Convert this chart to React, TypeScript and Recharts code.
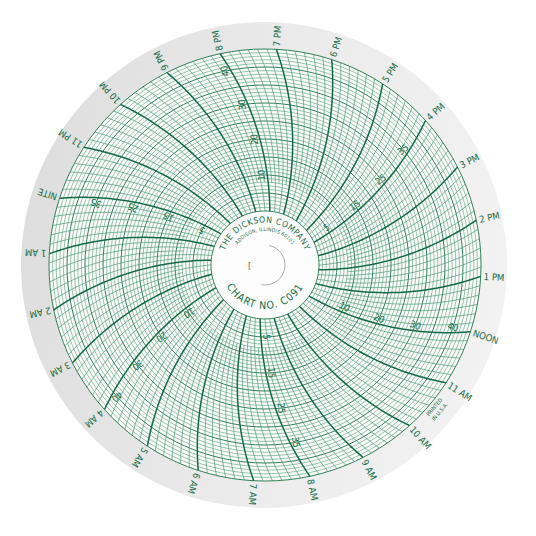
import React from "react";
import { ComposedChart, Line, Scatter, XAxis, YAxis } from "recharts";

// chart paper content
const HOUR_LABELS = [
  "NITE", "1 AM", "2 AM", "3 AM", "4 AM", "5 AM", "6 AM", "7 AM", "8 AM", "9 AM", "10 AM", "11 AM",
  "NOON", "1 PM", "2 PM", "3 PM", "4 PM", "5 PM", "6 PM", "7 PM", "8 PM", "9 PM", "10 PM", "11 PM",
];
const MINUTE_LINES = [0, 10, 20, 30, 40, 50];
const SCALE_MAX = 45;
const ODD_TICKS = [5, 15, 25, 35];
const EVEN_TICKS = [10, 20, 30, 40];
const LABELLED_HOURS = [0, 4, 8, 12, 16, 20];
const HUB_TITLE = "THE DICKSON COMPANY";
const HUB_CITY = "ADDISON, ILLINOIS 60101";
const HUB_CHART = "CHART NO. C091";
const PRINTED = ["PRINTED", "IN U.S.A."];

// geometry
const SIZE = 536;
const CX = 265;
const CY = 265;
const R_PAPER = 243;
const R_HUB = 54;
const R_OUT = 216;
const UNIT = (R_OUT - R_HUB) / SCALE_MAX;
const PEN = 280; // pen arm length, bends the time lines
const NITE_ANGLE = 162;
const DEG = Math.PI / 180;

const GREEN = "#136b44";
const THIN = "#3f9468";
const FONT = "'Liberation Sans Narrow', 'DejaVu Sans Condensed', 'Liberation Sans', sans-serif";

const rOf = (v: number) => R_HUB + v * UNIT;
const bend = (r: number) => (Math.acos(r / (2 * PEN)) - Math.acos(R_OUT / (2 * PEN))) / DEG;
const angleOf = (hour: number, r: number) => NITE_ANGLE + 15 * hour - bend(r);
const polar = (r: number, a: number) => ({ x: r * Math.cos(a * DEG), y: r * Math.sin(a * DEG) });

const scaleSteps: number[] = [];
for (let v = 0; v <= SCALE_MAX; v++) scaleSteps.push(v);

const circles = scaleSteps.map((v) => {
  const pts = [];
  for (let a = 0; a <= 360; a += 3) pts.push(polar(rOf(v), a));
  return { v, pts };
});

const timeLines: { key: string; major: boolean; pts: { x: number; y: number }[] }[] = [];
HOUR_LABELS.forEach((_, h) => {
  MINUTE_LINES.forEach((m) => {
    const t = h + m / 60;
    const start = m === 0 || m === 20 || m === 40 ? 0 : 8;
    const pts = [];
    for (let v = start; v <= SCALE_MAX; v++) pts.push(polar(rOf(v), angleOf(t, rOf(v))));
    timeLines.push({ key: `t${h}-${m}`, major: m === 0, pts });
  });
});

const hourLabelData = HOUR_LABELS.map((label, h) => {
  const a = NITE_ANGLE + 15 * h;
  return { ...polar(R_OUT + 3, a), label, angle: a };
});

const valueLabelData = LABELLED_HOURS.flatMap((h, i) =>
  (i % 2 === 0 ? ODD_TICKS : EVEN_TICKS).map((v) => {
    const r = rOf(v);
    const a = angleOf(h, r) + 6 / r / DEG;
    return { ...polar(r, a), label: String(v), angle: a };
  })
);

const hubData = [{ x: 0, y: 0 }];
const printedData = [{ ...polar(226, 320), angle: 320 }];

const RadialText = (props: any) => {
  const { cx, cy, payload, size, anchor } = props;
  return (
    <text
      x={cx}
      y={cy}
      transform={`rotate(${-payload.angle} ${cx} ${cy})`}
      textAnchor={anchor}
      dominantBaseline="central"
      fontFamily={FONT}
      fontSize={size}
      fill={GREEN}
    >
      {payload.label}
    </text>
  );
};

const arc = (cx: number, cy: number, r: number, a0: number, a1: number, sweep: number) => {
  const x0 = cx + r * Math.cos(a0 * DEG);
  const y0 = cy - r * Math.sin(a0 * DEG);
  const x1 = cx + r * Math.cos(a1 * DEG);
  const y1 = cy - r * Math.sin(a1 * DEG);
  return `M${x0},${y0} A${r},${r} 0 0 ${sweep} ${x1},${y1}`;
};

const HubText = (props: any) => {
  const { cx, cy } = props;
  return (
    <g fontFamily={FONT} fill={GREEN}>
      <defs>
        <path id="hubTop" d={arc(cx, cy, 42.5, 168, 12, 1)} />
        <path id="hubCity" d={arc(cx, cy, 34, 165, 15, 1)} />
        <path id="hubBottom" d={arc(cx, cy, 44, 200, 340, 0)} />
      </defs>
      <text fontSize={8.5} letterSpacing={0.6}>
        <textPath href="#hubTop" startOffset="50%" textAnchor="middle">{HUB_TITLE}</textPath>
      </text>
      <text fontSize={5} letterSpacing={0.2}>
        <textPath href="#hubCity" startOffset="50%" textAnchor="middle">{HUB_CITY}</textPath>
      </text>
      <text fontSize={10.5} letterSpacing={1}>
        <textPath href="#hubBottom" startOffset="50%" textAnchor="middle">{HUB_CHART}</textPath>
      </text>
      <path d={arc(cx, cy, 20, 78, -100, 1)} fill="none" stroke="#8a8a8a" strokeWidth={0.7} />
      <text x={cx - 17} y={cy + 1} fontSize={9} fill="#666" dominantBaseline="central">[</text>
    </g>
  );
};

const PrintedText = (props: any) => {
  const { cx, cy, payload } = props;
  const rot = 90 - payload.angle + 180;
  return (
    <g transform={`rotate(${rot} ${cx} ${cy})`} fontFamily={FONT} fontSize={5.5} fill={GREEN} textAnchor="middle">
      <text x={cx} y={cy - 3}>{PRINTED[0]}</text>
      <text x={cx} y={cy + 4}>{PRINTED[1]}</text>
    </g>
  );
};

const disc = (r: number, background: string, cx = CX, cy = CY): React.CSSProperties => ({
  position: "absolute",
  left: cx - r,
  top: cy - r,
  width: 2 * r,
  height: 2 * r,
  borderRadius: "50%",
  background,
});

export default function App() {
  return (
    <div style={{ position: "absolute", left: 0, top: 0, width: SIZE, height: SIZE, background: "#fff" }}>
      <div style={disc(R_PAPER, "linear-gradient(100deg, #dcdcdc, #ececec 55%, #f3f3f3)", 264, 265)} />
      <div style={disc(R_OUT, "#fbfbfa")} />
      <div style={disc(R_HUB, "#fdfdfd")} />
      <div style={{ position: "absolute", left: 0, top: 0 }}>
        <ComposedChart width={SIZE} height={SIZE} margin={{ top: 0, right: 0, bottom: 0, left: 0 }}>
          <XAxis type="number" dataKey="x" domain={[-CX, SIZE - CX]} allowDataOverflow hide />
          <YAxis type="number" dataKey="y" domain={[CY - SIZE, CY]} allowDataOverflow hide />
          {circles.map((c) => (
            <Line
              key={`c${c.v}`}
              data={c.pts}
              dataKey="y"
              type="linear"
              dot={false}
              activeDot={false}
              stroke={c.v % 5 === 0 ? "#257a50" : "#52a07a"}
              strokeWidth={c.v % 5 === 0 ? 0.95 : 0.6}
              isAnimationActive={false}
            />
          ))}
          {timeLines.map((t) => (
            <Line
              key={t.key}
              data={t.pts}
              dataKey="y"
              type="linear"
              dot={false}
              activeDot={false}
              stroke={t.major ? GREEN : THIN}
              strokeWidth={t.major ? 1.5 : 0.65}
              isAnimationActive={false}
            />
          ))}
          <Scatter
            data={hourLabelData}
            dataKey="y"
            isAnimationActive={false}
            shape={(p: any) => <RadialText {...p} size={9.5} anchor="start" />}
          />
          <Scatter
            data={valueLabelData}
            dataKey="y"
            isAnimationActive={false}
            shape={(p: any) => <RadialText {...p} size={9.5} anchor="middle" />}
          />
          <Scatter data={hubData} dataKey="y" isAnimationActive={false} shape={(p: any) => <HubText {...p} />} />
          <Scatter data={printedData} dataKey="y" isAnimationActive={false} shape={(p: any) => <PrintedText {...p} />} />
        </ComposedChart>
      </div>
    </div>
  );
}
